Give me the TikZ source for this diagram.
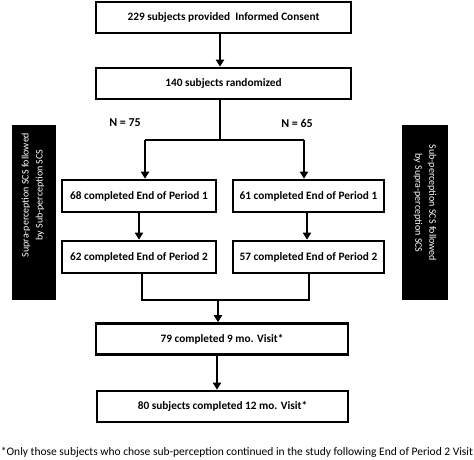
\documentclass[tikz,border=0pt]{standalone}
\usepackage{fontspec}
\setmainfont{Carlito}
\usetikzlibrary{arrows.meta}
\begin{document}
\begin{tikzpicture}[x=1pt,y=-1pt,
  box/.style={draw,line width=2.6pt,fill=white,inner sep=0pt,font=\bfseries\fontsize{11.3}{13}\selectfont},
  conn/.style={line width=2pt},
  arr/.style={conn,-{Triangle[length=7pt,width=8pt]}},
  side/.style={fill=black,text=white,inner sep=0pt,font=\fontsize{10}{14}\selectfont,align=center}]
\useasboundingbox (0,0) rectangle (474,459);
\node[box,minimum width=255pt,minimum height=31pt] (b1) at (223.5,17.5) {229 subjects provided\ \ Informed Consent};
\node[box,minimum width=255pt,minimum height=31pt] (b2) at (223.5,83.5) {140 subjects randomized};
\node[box,minimum width=154pt,minimum height=32pt] (l1) at (139,196) {68 completed End of Period 1};
\node[box,minimum width=151pt,minimum height=32pt] (r1) at (308.5,196) {61 completed End of Period 1};
\node[box,minimum width=154pt,minimum height=32pt] (l2) at (139,257) {62 completed End of Period 2};
\node[box,minimum width=151pt,minimum height=32pt] (r2) at (308.5,257) {57 completed End of Period 2};
\node[box,minimum width=252pt,minimum height=31pt] (b3) at (222,339) {79 completed 9 mo. Visit*};
\node[box,minimum width=251pt,minimum height=31pt] (b4) at (222.5,406.5) {80 subjects completed 12 mo. Visit*};
\node[font=\bfseries\fontsize{12}{14}\selectfont] (n75) at (125,123) {N = 75};
\node[font=\bfseries\fontsize{12}{14}\selectfont] (n65) at (297,123) {N = 65};
\node[font=\fontsize{11.5}{13}\selectfont,inner sep=0pt] (foot) at (237,452) {*Only those subjects who chose sub-perception continued in the study following End of Period 2 Visit};
\node[side,minimum width=44pt,minimum height=175pt] (sl) at (34,212.5) {};
\node[side,rotate=90] (slt) at (33,195) {Supra-perception SCS followed\\by Sub-perception SCS};
\node[side,minimum width=46pt,minimum height=175pt] (sr) at (425,212.5) {};
\node[side,rotate=-90] (srt) at (425,203) {Sub-perception SCS followed\\by Supra-perception SCS};
\coordinate (split) at (220,140);
\coordinate (splitL) at (145,140);
\coordinate (splitR) at (304,140);
\coordinate (join) at (218,300);
\coordinate (joinL) at (142,300);
\coordinate (joinR) at (309,300);
\draw[arr] (b1.south -| 220,0) -- (b2.north -| 220,0);
\draw[conn] (b2.south -| split) -- (split);
\draw[conn] (splitL) -- (splitR);
\draw[arr] (splitL) -- (l1.north -| splitL);
\draw[arr] (splitR) -- (r1.north -| splitR);
\draw[arr] (l1.south -| 139,0) -- (l2.north -| 139,0);
\draw[arr] (r1.south -| 307,0) -- (r2.north -| 307,0);
\draw[conn] (l2.south -| joinL) -- (joinL) -- (joinR) -- (r2.south -| joinR);
\draw[arr] (join) -- (b3.north -| join);
\draw[arr] (b3.south -| 217,0) -- (b4.north -| 217,0);
\end{tikzpicture}
\end{document}
